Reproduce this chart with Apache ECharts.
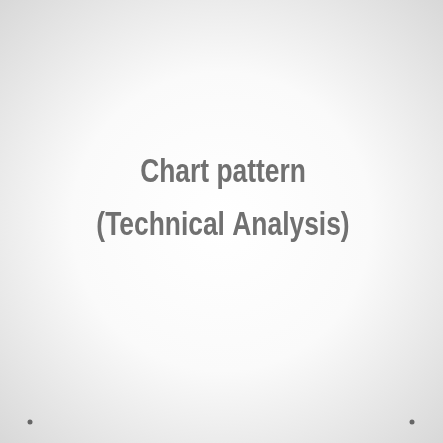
<!DOCTYPE html>
<html>
<head>
<meta charset="utf-8">
<script src="https://cdn.jsdelivr.net/npm/echarts@6/dist/echarts.min.js"></script>
<style>
html, body { margin: 0; padding: 0; }
#main { width: 443px; height: 443px; }
</style>
</head>
<body>
<div id="main"></div>
<script>
var titleLines = ['Chart pattern', '(Technical Analysis)'];
var lineYs = [173, 226];
var dotXs = [30, 412];

var myChart = echarts.init(document.getElementById('main'));

// narrow bold font is not installed, so squeeze the bold sans horizontally
var texts = titleLines.map(function (t, i) {
    return {
        type: 'text',
        x: 223,
        y: lineYs[i],
        scaleX: 0.8,
        style: {
            text: t,
            align: 'center',
            verticalAlign: 'middle',
            font: 'bold 33px "Liberation Sans", Arial',
            fill: '#707070'
        }
    };
});

var dots = dotXs.map(function (x) {
    return {
        type: 'circle',
        shape: { cx: x, cy: 422, r: 2.5 },
        style: { fill: '#666' }
    };
});

myChart.setOption({
    backgroundColor: {
        type: 'radial', x: 0.5, y: 0.5, r: 0.75,
        colorStops: [
            { offset: 0, color: '#ffffff' },
            { offset: 0.45, color: '#fafafa' },
            { offset: 1, color: '#d4d4d4' }
        ]
    },
    graphic: texts.concat(dots)
});
</script>
</body>
</html>
